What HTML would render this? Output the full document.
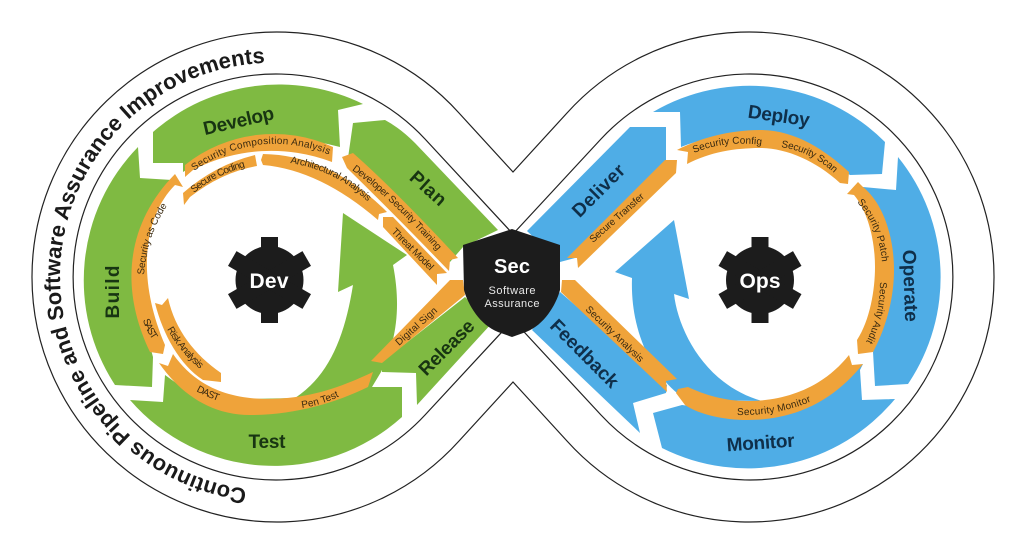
<!DOCTYPE html>
<html><head><meta charset="utf-8"><style>
html,body{margin:0;padding:0;background:#fff}
svg{display:block}
text{font-family:"Liberation Sans",sans-serif}
.g{fill:#7fba42}.b{fill:#4fade6}.o{fill:#efa33a}
.lg{font-weight:700;font-size:19px;fill:#183512;text-anchor:middle}
.lb{font-weight:700;font-size:19px;fill:#0f2f4a;text-anchor:middle}
.s{font-size:10px;fill:#3a2a10}
</style></head><body>
<svg width="1024" height="554" viewBox="0 0 1024 554" xmlns="http://www.w3.org/2000/svg">
<rect width="1024" height="554" fill="#fff"/>
<defs>
<path id="ring" d="M247,489 A214,214 0 0 1 263,63 L290,62"/>
<path id="p1" d="M194,171 Q255,128 325,153 L345,162"/>
<path id="p2" d="M194,193 Q215,175 245,167 L265,163"/>
<path id="p3" d="M290,163 Q335,170 366,200 L380,213"/>
<path id="p4" d="M352,170 Q392,199 441,255 L455,271"/>
<path id="p5" d="M391,232 L445,286"/>
<path id="p6" d="M593,243 L660,184"/>
<path id="p7" d="M694,153 Q725,140 762,145 L780,147"/>
<path id="p8" d="M781,147 Q812,152 834,173 L848,187"/>
<path id="p9" d="M857,202 Q879,228 882,262 L883,280"/>
<path id="p10" d="M880,282 Q880,315 866,342 L858,358"/>
<path id="p11" d="M737,415 Q778,416 812,401 L830,392"/>
<path id="p12" d="M585,310 L655,377"/>
<path id="p13" d="M399,346 L453,298"/>
<path id="p14" d="M302,408 Q322,405 340,396 L355,389"/>
<path id="p15" d="M196,391 Q207,397 218,401 L232,406"/>
<path id="p16" d="M167,329 Q180,352 199,368 L213,380"/>
<path id="p17" d="M143,320 Q146,330 152,339 L162,352"/>
<path id="p18" d="M144,275 Q147,237 165,209 L175,194"/>
<g id="gear"><circle r="34" fill="#1c1c1c"/><rect x="-8.5" y="-43" width="17" height="86" fill="#1c1c1c"/><rect x="-8.5" y="-43" width="17" height="86" fill="#1c1c1c" transform="rotate(60)"/><rect x="-8.5" y="-43" width="17" height="86" fill="#1c1c1c" transform="rotate(120)"/></g>
</defs>

<!-- outline lines -->
<path d="M513,172 L459,113 A245,245 0 1 0 459,441 L513,382 L567,441 A245,245 0 1 0 567,113 Z" fill="none" stroke="#222" stroke-width="1.2"/>
<path d="M513,234 L425,139 A203,203 0 1 0 425,415 L513,320 L601,415 A203,203 0 1 0 601,139 Z" fill="none" stroke="#222" stroke-width="1.2"/>

<!-- green -->
<path class="g" d="M153,132 A191,191 0 0 1 363,104 L338,110 L340,147 Q260,125 183,172 L183,163 L153,163 Z"/>
<path class="g" d="M138,147 L140,178 L172,180 Q125,260 153,357 L152,387 L115,385 A191,191 0 0 1 138,147 Z"/>
<path class="g" d="M130,400 L163,402 L165,375 L200,400 L295,398 C330,375 345,335 353,285 L338,292 L343,213 L407,255 L393,265 C402,310 395,345 381,372 L372,387 L402,387 L402,417 A191,191 0 0 1 130,400 Z"/>
<path class="g" d="M353,123 L385,120 Q400,128 415,143 L498,230 L463,247 L450,262 L347,165 Z"/>
<path class="g" d="M465,297 L492,323 L417,405 L416,373 L382,372 L382,362 Z"/>

<!-- blue -->
<path class="b" d="M527,231 L630,127 L666,127 L666,160 L575,258 L560,262 Z"/>
<path class="b" d="M653,112 L680,112 L681,147 Q760,115 850,175 L882,174 L885,142 A191,191 0 0 0 653,112 Z"/>
<path class="b" d="M898,157 L896,190 L863,187 Q900,270 873,352 L875,386 L908,384 A191,191 0 0 0 898,157 Z"/>
<path class="b" d="M653,413 L682,405 L760,415 L863,364 L860,370 L862,400 L895,399 A191,191 0 0 1 662,448 Z"/>
<path class="b" d="M674,220 L689,299 L674,294 C678,330 705,385 762,401 L690,400 L677,393 C655,375 630,335 632,278 L615,272 Z"/>
<path class="b" d="M560,292 L532,330 L640,433 L633,403 L666,393 L667,385 Z"/>

<!-- orange -->
<path class="o" d="M185,177 L185,165 A142,142 0 0 1 333,147 L332,162 A170,170 0 0 0 193,170 Z"/>
<path class="o" d="M184,205 L183,193 Q215,165 255,155 L257,166 Q222,172 190,197 Z"/>
<path class="o" d="M261,160 L263,154 Q330,155 387,212 L379,214 L378,220 Q320,170 263,165 Z"/>
<path class="o" d="M342,157 L353,153 Q395,190 458,258 L450,260 L449,271 Q395,215 347,168 Z"/>
<path class="o" d="M383,217 L393,217 L447,273 L437,274 L437,285 L383,227 Z"/>
<path class="o" d="M450,280 L463,280 L465,295 L382,363 L371,361 Z"/>
<path class="o" d="M159,363 L168,366 L173,354 C195,385 225,398 265,399 C305,399 335,390 373,372 L368,387 C335,403 295,415 250,415 C210,415 180,393 159,363 Z"/>
<path class="o" d="M175,174 L183,187 L175,185 C145,215 135,275 165,345 L163,354 L150,352 C120,290 125,225 175,174 Z"/>
<path class="o" d="M155,303 L162,305 L168,298 C175,330 195,355 221,373 L221,382 L203,380 C180,365 163,335 155,303 Z"/>
<path class="o" d="M665,160 L677,160 L676,173 L578,268 L577,258 L567,258 Z"/>
<path class="o" d="M677,150 C700,138 730,130 760,130 C795,130 825,150 849,172 L848,184 L840,183 C815,160 785,148 760,148 C735,148 710,152 687,164 L688,152 Z"/>
<path class="o" d="M858,182 L863,187 C885,205 894,240 894,270 C894,300 885,330 873,352 L858,354 L857,340 C870,320 875,290 875,267 C875,240 868,212 854,195 L847,194 Z"/>
<path class="o" d="M676,393 L678,389 L688,387 C705,395 725,401 747,401 C790,401 825,385 849,355 L852,365 L863,364 C830,405 790,420 747,420 C725,420 700,415 685,405 Z"/>
<path class="o" d="M562,280 L575,280 L677,379 L666,381 L667,392 L561,292 Z"/>

<!-- shield -->
<path d="M512,229 L463,245 L464,290 C468,305 480,325 498,332 L512,337 L526,332 C544,325 556,305 560,290 L560,245 Z" fill="#1c1c1c"/>

<!-- gears -->
<use href="#gear" x="269.5" y="280"/>
<use href="#gear" x="760" y="280"/>

<!-- outer text -->
<text font-size="22" font-weight="700" fill="#1a1a1a"><textPath href="#ring" textLength="636" lengthAdjust="spacing">Continuous Pipeline and Software Assurance Improvements</textPath></text>

<!-- big labels -->
<text class="lg" x="0" y="0" transform="translate(240,127) rotate(-13)" textLength="72">Develop</text>
<text class="lg" x="0" y="0" transform="translate(424,193) rotate(42)" textLength="42">Plan</text>
<text class="lg" x="0" y="0" transform="translate(451,352) rotate(-45)" textLength="70">Release</text>
<text class="lg" x="0" y="0" transform="translate(119,292) rotate(-90)" textLength="53">Build</text>
<text class="lg" x="267" y="448" textLength="37">Test</text>
<text class="lb" x="0" y="0" transform="translate(603,195) rotate(-45)" textLength="66">Deliver</text>
<text class="lb" x="0" y="0" transform="translate(778,122) rotate(8)" textLength="62">Deploy</text>
<text class="lb" x="0" y="0" transform="translate(904,286) rotate(88)" textLength="72">Operate</text>
<text class="lb" x="0" y="0" transform="translate(761,449) rotate(-4)" textLength="68">Monitor</text>
<text class="lb" x="0" y="0" transform="translate(580,358) rotate(45)" textLength="88">Feedback</text>

<text x="269" y="288" font-size="21" font-weight="700" fill="#fff" text-anchor="middle" textLength="39">Dev</text>
<text x="760" y="288" font-size="21" font-weight="700" fill="#fff" text-anchor="middle" textLength="41">Ops</text>
<text x="512" y="273" font-size="20" font-weight="700" fill="#fff" text-anchor="middle" textLength="36">Sec</text>
<text x="512" y="294" font-size="11" fill="#e8e8e8" text-anchor="middle" textLength="47">Software</text>
<text x="512" y="307" font-size="11" fill="#e8e8e8" text-anchor="middle" textLength="55">Assurance</text>

<!-- small labels -->
<text class="s"><textPath href="#p1" textLength="142">Security Composition Analysis</textPath></text>
<text class="s"><textPath href="#p2" textLength="58">Secure Coding</textPath></text>
<text class="s"><textPath href="#p3" textLength="88">Architectural Analysis</textPath></text>
<text class="s"><textPath href="#p4" textLength="118">Developer Security Training</textPath></text>
<text class="s"><textPath href="#p5" textLength="55">Threat Model</textPath></text>
<text class="s"><textPath href="#p6" textLength="69">Secure Transfer</textPath></text>
<text class="s"><textPath href="#p7" textLength="69">Security Config</textPath></text>
<text class="s"><textPath href="#p8" textLength="60">Security Scan</textPath></text>
<text class="s"><textPath href="#p9" textLength="66">Security Patch</textPath></text>
<text class="s"><textPath href="#p10" textLength="62">Security Audit</textPath></text>
<text class="s"><textPath href="#p11" textLength="76">Security Monitor</textPath></text>
<text class="s"><textPath href="#p12" textLength="76">Security Analysis</textPath></text>
<text class="s"><textPath href="#p13" textLength="52">Digital Sign</textPath></text>
<text class="s"><textPath href="#p14" textLength="39">Pen Test</textPath></text>
<text class="s"><textPath href="#p15" textLength="24">DAST</textPath></text>
<text class="s"><textPath href="#p16" textLength="52">Risk Analysis</textPath></text>
<text class="s"><textPath href="#p17" textLength="22">SAST</textPath></text>
<text class="s"><textPath href="#p18" textLength="74">Security as Code</textPath></text>
</svg>
</body></html>
